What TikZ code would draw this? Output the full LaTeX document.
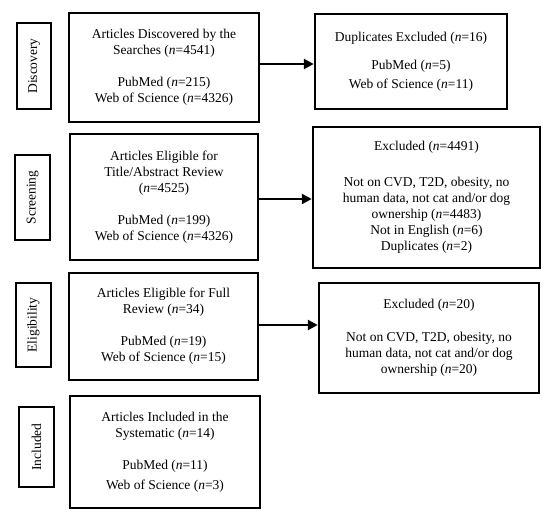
\documentclass[tikz,border=0pt]{standalone}
\usepackage{fontspec}
\setmainfont{Liberation Serif}
\usetikzlibrary{arrows.meta}
\tikzset{
  box/.style={draw, line width=2.5pt, rectangle, align=center, inner sep=0pt,
    font=\fontsize{13.5}{16}\selectfont},
  lab/.style={draw, line width=2.5pt, rectangle, rotate=90, inner sep=0pt,
    font=\fontsize{13.5}{16}\selectfont},
  arr/.style={line width=2.5pt, -{Triangle[length=10pt,width=10pt]}}
}
\newcommand{\nn}{\textit{n}}
\begin{document}
\begin{tikzpicture}[x=1pt,y=-1pt]
\useasboundingbox (0,0) rectangle (550,520);
% stage labels
\node[lab, minimum width=86pt, minimum height=34pt] (l1) at (34,66) {Discovery};
\node[lab, minimum width=85pt, minimum height=35pt] (l2) at (32.5,197.5) {Screening};
\node[lab, minimum width=84pt, minimum height=35pt] (l3) at (33.5,325) {Eligibility};
\node[lab, minimum width=80pt, minimum height=35pt] (l4) at (36.5,447) {Included};
% main boxes
\node[box, minimum width=190pt, minimum height=109pt] (b1) at (164,67.5)
  {Articles Discovered by the\\Searches (\nn=4541)\\[16pt]PubMed (\nn=215)\\Web of Science (\nn=4326)};
\node[box, minimum width=188pt, minimum height=126pt] (b2) at (164,197)
  {Articles Eligible for\\Title/Abstract Review\\(\nn=4525)\\[16pt]PubMed (\nn=199)\\Web of Science (\nn=4326)};
\node[box, minimum width=189pt, minimum height=107pt] (b3) at (163.5,326.5)
  {Articles Eligible for Full\\Review (\nn=34)\\[16pt]PubMed (\nn=19)\\Web of Science (\nn=15)};
\node[box, minimum width=190pt, minimum height=112pt] (b4) at (165,452)
  {Articles Included in the\\Systematic (\nn=14)\\[16pt]PubMed (\nn=11)\\[4pt]Web of Science (\nn=3)};
% exclusion boxes
\node[box, minimum width=192pt, minimum height=95pt] (d1) at (411,61.5)
  {Duplicates Excluded (\nn=16)\\[12pt]PubMed (\nn=5)\\[3pt]Web of Science (\nn=11)};
\node[box, minimum width=227pt, minimum height=141pt] (e2) at (426.5,197.5)
  {Excluded (\nn=4491)\\[20pt]Not on CVD, T2D, obesity, no\\human data, not cat and/or dog\\ownership (\nn=4483)\\Not in English (\nn=6)\\Duplicates (\nn=2)};
\node[box, minimum width=220pt, minimum height=110pt] (e3) at (429,338)
  {Excluded (\nn=20)\\[17pt]Not on CVD, T2D, obesity, no\\human data, not cat and/or dog\\ownership (\nn=20)};
% arrows
\coordinate (y1) at (0,64);
\coordinate (y2) at (0,199);
\coordinate (y3) at (0,325);
\draw[arr] (b1.east |- y1) -- (d1.west |- y1);
\draw[arr] (b2.east |- y2) -- (e2.west |- y2);
\draw[arr] (b3.east |- y3) -- (e3.west |- y3);
\end{tikzpicture}
\end{document}
